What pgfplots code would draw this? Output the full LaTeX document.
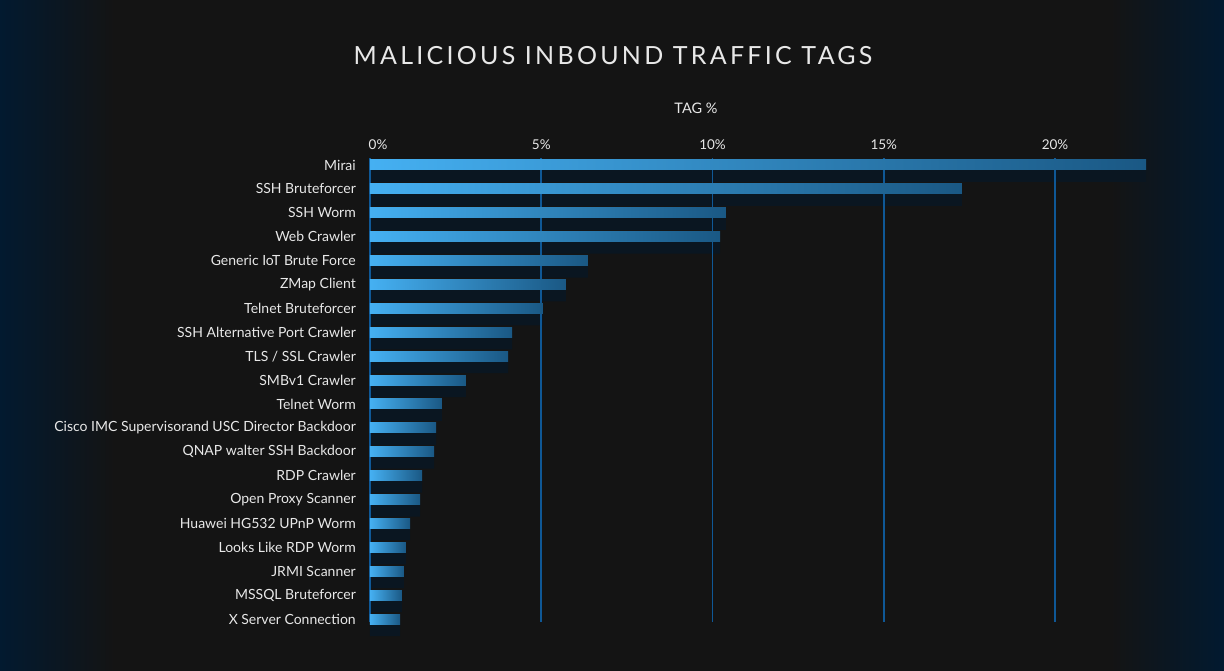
\documentclass[border=0pt]{standalone}
\usepackage{fontspec}
\setmainfont{Lato}
\newfontfamily\titlefont[LetterSpace=13]{Lato}
\usepackage{pgfplots}
\pgfplotsset{compat=1.18}
\usepackage{pgfplotstable}
\definecolor{bgc}{HTML}{141414}
\definecolor{edgec}{HTML}{011A31}
\definecolor{barL}{HTML}{45B0F2}
\definecolor{barR}{HTML}{1A5884}
\definecolor{shadc}{HTML}{0A1621}
\definecolor{gridc}{HTML}{0F5896}
\definecolor{txt}{HTML}{E8E8E8}

\pgfplotstableread{
y val
0 22.66
1 17.28
2 10.39
3 10.22
4 6.36
5 5.72
6 5.05
7 4.15
8 4.03
9 2.80
10 2.10
11 1.93
12 1.87
13 1.52
14 1.46
15 1.17
16 1.05
17 0.99
18 0.93
19 0.88
}\tagdata

\begin{document}
\begin{tikzpicture}
\useasboundingbox (0pt,0pt) rectangle (1224pt,670pt);
\fill[bgc] (-5pt,-5pt) rectangle (1229pt,675pt);
\shade[left color=edgec, right color=bgc] (-5pt,-5pt) rectangle (115pt,675pt);
\shade[left color=bgc, right color=edgec] (1110pt,-5pt) rectangle (1229pt,675pt);
\node[text=txt, font=\titlefont\fontsize{25}{30}\selectfont] at (613pt,614pt) {MALICIOUS INBOUND TRAFFIC TAGS};
\node[text=txt, font=\fontsize{14.5}{17}\selectfont] at (696pt,562pt) {TAG \%};
\begin{axis}[
  at={(370pt,516.95pt)}, anchor=north west,
  scale only axis, width=787.75pt, height=477.9pt,
  xmin=0, xmax=23, ymin=-0.5, ymax=19.5,
  y dir=reverse, clip=false,
  axis line style={draw=none}, tick style={draw=none},
  xtick={0,5,10,15,20},
  xticklabels={\hspace*{16pt}0\%,5\%,10\%,15\%,20\%},
  xticklabel pos=upper,
  xticklabel style={text=txt, font=\fontsize{13.5}{16}\selectfont, inner sep=0pt, anchor=south, yshift=3pt},
  ytick={0,...,19},
  yticklabels={Mirai,SSH Bruteforcer,SSH Worm,Web Crawler,Generic IoT Brute Force,ZMap Client,Telnet Bruteforcer,SSH Alternative Port Crawler,TLS / SSL Crawler,SMBv1 Crawler,Telnet Worm,Cisco IMC Supervisorand USC Director Backdoor,QNAP walter SSH Backdoor,RDP Crawler,Open Proxy Scanner,Huawei HG532 UPnP Worm,Looks Like RDP Worm,JRMI Scanner,MSSQL Bruteforcer,X Server Connection},
  yticklabel style={text=txt, font=\fontsize{14}{16}\selectfont, inner sep=0pt, anchor=east, xshift=-14pt},
]
\addplot[xbar, bar width=12pt, bar shift=-11pt, draw=none, fill=shadc] table[x=val,y=y]{\tagdata};
\foreach \g in {0,5,10,15,20}{
  \edef\tmp{\noexpand\draw[gridc, line width=1.8pt] (axis cs:\g,-0.29) -- (axis cs:\g,19.13);}
  \tmp
}
\pgfplotsinvokeforeach{0,...,19}{
\addplot[xbar, bar width=10pt, bar shift=0pt, draw=none, left color=barL, right color=barR, restrict y to domain=#1:#1] table[x=val,y=y]{\tagdata};
}
\end{axis}
\end{tikzpicture}
\end{document}
